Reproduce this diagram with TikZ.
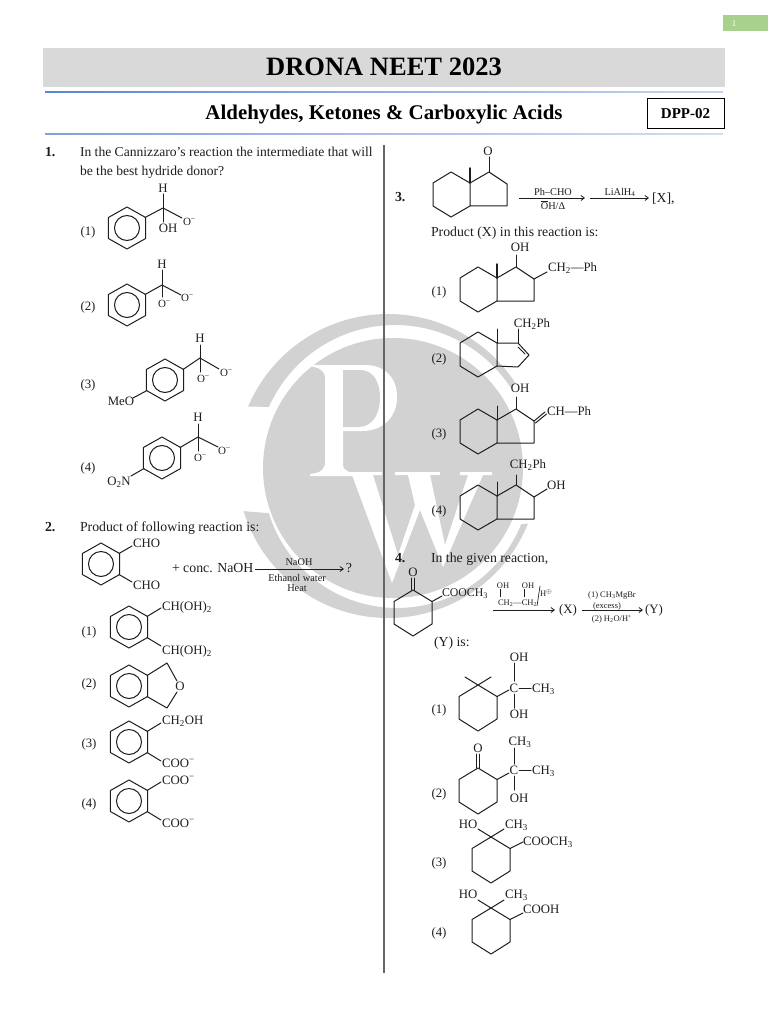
\documentclass[tikz,border=0pt]{standalone}
\usepackage{fontspec}
\setmainfont{Liberation Serif}
\usetikzlibrary{arrows.meta}
\definecolor{wm}{HTML}{D2D2D2}
\definecolor{ink}{HTML}{1E1E1E}
\definecolor{pagegreen}{HTML}{A9D18E}
\definecolor{bandgrey}{HTML}{D9D9D9}
\definecolor{ruleone}{HTML}{5A87D2}
\definecolor{ruletwo}{HTML}{82A0DC}
\definecolor{midline}{HTML}{666666}
\newcounter{tn}
\tikzset{
 txt/.style={inner sep=0pt,outer sep=0pt,text=ink,font=\fontsize{12.8}{14}\selectfont},
 body/.style={font=\fontsize{13.8}{15}\selectfont},
 bodyq/.style={font=\fontsize{13.6}{15}\selectfont},
 bodyb/.style={font=\fontsize{13.8}{15}\selectfont\bfseries},
 small/.style={font=\fontsize{10.3}{12}\selectfont},
 minus/.style={font=\fontsize{11}{12}\selectfont},
 tiny/.style={font=\fontsize{8.5}{10}\selectfont},
 bond/.style={draw=ink,line width=1pt,line join=round,line cap=round},
 thinbond/.style={draw=ink,line width=0.65pt},
 heavy/.style={draw=ink,line width=1.5pt,line cap=round},
 rarrow/.style={draw=ink,line width=0.8pt,-{Straight Barb[length=3.5pt,width=5pt]}},
 rulea/.style={left color=#1,right color=#1!35!white,draw=none},
}
\newcommand\txtL[4][]{\stepcounter{tn}\node[txt,anchor=base west,#1] (t\arabic{tn}) at (#2,{#3+4.2}) {#4};}
\newcommand\txtC[4][]{\stepcounter{tn}\node[txt,anchor=base,#1] (t\arabic{tn}) at (#2,{#3+4.2}) {#4};}
% hexagon pointy top, centre x y, with inner circle
\newcommand\benz[2]{%
 \draw[bond] (#1,#2-21) -- (#1+18.6,#2-10.5) -- (#1+18.6,#2+10.5) -- (#1,#2+21) -- (#1-18.6,#2+10.5) -- (#1-18.6,#2-10.5) -- cycle;
 \draw[bond] (#1,#2) circle[radius=12.5pt];}
% cyclohexane, given top vertex
\newcommand\chex[2]{%
 \draw[bond] (#1,#2) -- (#1+19,#2+11.5) -- (#1+19,#2+34) -- (#1,#2+46) -- (#1-19,#2+34) -- (#1-19,#2+11.5) -- cycle;}
% fused six-five skeleton, J = upper junction
\newcommand\sixring[2]{%
 \draw[bond] (#1,#2) -- (#1-19,#2-11) -- (#1-37,#2) -- (#1-37,#2+23) -- (#1-19,#2+34) -- (#1,#2+23) -- cycle;}
\newcommand\fivering[2]{%
 \draw[bond] (#1,#2) -- (#1+19,#2-11) -- (#1+37,#2+1) -- (#1+37,#2+23) -- (#1,#2+23);}
\begin{document}
\begin{tikzpicture}[x=1pt,y=-1pt]
\useasboundingbox (0,0) rectangle (768,1024);
\fill[white] (0,0) rectangle (768,1024);
% ---- watermark
\fill[wm] plot[domain=157:33,samples=70] ({388+152*cos(\x)},{466-152*sin(\x)}) -- plot[domain=33:156,samples=70] ({395+138*cos(\x)},{463-138*sin(\x)}) -- cycle;
\fill[wm] plot[domain=197:338,samples=70] ({388+151*cos(\x)},{467-151*sin(\x)}) -- plot[domain=338:197,samples=70] ({397+134*cos(\x)},{474-134*sin(\x)}) -- cycle;
\fill[wm] (393,468) circle[radius=130pt];
\fill[white] (308,365) -- (365,365) .. controls (385,365) and (397,378) .. (397,397) .. controls (397,418) and (382,431) .. (362,431) -- (343,431) -- (343,466) .. controls (343,470) and (350,473) .. (357,474) -- (357,476) -- (310,476) -- (310,474) .. controls (320,473) and (325,470) .. (325,462) -- (325,378) .. controls (325,370) and (318,367) .. (308,366) -- cycle;
\fill[wm] (343,370) -- (360,370) .. controls (375,370) and (380,385) .. (380,397) .. controls (380,415) and (372,427) .. (358,427) -- (343,427) -- cycle;
\fill[white] (345,472) -- (382,472) -- (382,475) -- (373,475) -- (398,555) -- (415,505) -- (408,475) -- (395,475) -- (395,472) -- (440,472) -- (440,475) -- (430,475) -- (445,545) -- (468,475) -- (460,475) -- (460,472) -- (492,472) -- (492,475) -- (483,475) -- (443,567) -- (420,510) -- (392,583) -- (352,475) -- (345,475) -- cycle;
% ---- header
\fill[pagegreen] (723,15) rectangle (768,31);
\txtC[font=\fontsize{9}{10}\selectfont,text=white]{734}{22}{1}
\fill[bandgrey] (43,48) rectangle (725,87);
\txtC[font=\fontsize{26.5}{28}\selectfont\bfseries,text=black]{384}{71}{DRONA NEET 2023}
\shade[rulea=ruleone] (45,91.5) rectangle (723,93);
\txtC[font=\fontsize{20.9}{23}\selectfont\bfseries,text=black]{384}{115}{Aldehydes, Ketones \& Carboxylic Acids}
\draw[black,line width=0.9pt] (647,98) rectangle (724,128);
\txtC[font=\fontsize{15}{17}\selectfont\bfseries,text=black]{685.5}{114}{DPP-02}
\shade[rulea=ruletwo] (45,133.5) rectangle (723,135);
\draw[draw=midline,line width=1.4pt] (384,145) -- (384,973);
% ---- Q1
\txtL[bodyb]{45}{152}{1.}
\txtL[bodyq]{80}{152}{In the Cannizzaro’s reaction the intermediate that will}
\txtL[bodyq]{80}{171}{be the best hydride donor?}
\txtC{88}{231}{(1)}\txtC{88}{306}{(2)}\txtC{88}{384}{(3)}\txtC{88}{467}{(4)}
\benz{127}{228}
\draw[bond] (145,217.5) -- (163,208) -- (182,218);
\draw[bond] (163,194) -- (163,222);
\txtC{163}{188}{H}\txtC{168}{228}{OH}\txtL[minus]{183}{221}{O\textsuperscript{−}}
\benz{127}{305}
\draw[bond] (145,294.5) -- (162,285) -- (181,295);
\draw[bond] (162,270) -- (162,297);
\txtC{162}{264}{H}\txtL[minus]{158}{303}{O\textsuperscript{−}}\txtL[minus]{181}{297}{O\textsuperscript{−}}
\benz{165}{380}
\draw[bond] (183,369.5) -- (200,358) -- (219,369);
\draw[bond] (200,345) -- (200,372);
\draw[bond] (147,390.5) -- (133,398);
\txtC{200}{338}{H}\txtL[minus]{197}{378}{O\textsuperscript{−}}\txtL[minus]{220}{372}{O\textsuperscript{−}}
\txtC{121}{401}{MeO}
\benz{162}{458}
\draw[bond] (180,447.5) -- (198,437) -- (218,447);
\draw[bond] (198,424) -- (198,451);
\draw[bond] (144,468.5) -- (131,476);
\txtC{198}{417}{H}\txtL[minus]{194}{457}{O\textsuperscript{−}}\txtL[minus]{218}{450}{O\textsuperscript{−}}
\txtC{119}{481}{O\textsubscript{2}N}
% ---- Q2
\txtL[bodyb]{45}{527}{2.}
\txtL[body]{80}{527}{Product of following reaction is:}
\benz{101}{564}
\draw[bond] (119,553.5) -- (132,546);
\draw[bond] (119,574.5) -- (132,582);
\txtL{133}{543}{CHO}\txtL{133}{585}{CHO}
\txtL[body]{172}{568}{+ conc. NaOH}
\coordinate (q2a) at (255,569);\coordinate (q2b) at (344,569);
\draw[rarrow] (q2a) -- (q2b);
\txtC[body]{349}{568}{?}
\txtC[small]{299}{561}{NaOH}\txtC[small]{297}{577}{Ethanol water}\txtC[small]{297}{587}{Heat}
\txtC{89}{631}{(1)}\txtC{89}{683}{(2)}\txtC{89}{743}{(3)}\txtC{89}{803}{(4)}
\benz{129}{627}
\draw[bond] (147,616.5) -- (161,608);
\draw[bond] (147,637.5) -- (161,646);
\txtL{162}{606}{CH(OH)\textsubscript{2}}\txtL{162}{650}{CH(OH)\textsubscript{2}}
\benz{129}{686}
\draw[bond] (147,675.5) -- (167,663) -- (177,681);
\draw[bond] (147,696.5) -- (167,708) -- (177,692);
\txtC{180}{686}{O}
\benz{129}{742}
\draw[bond] (147,731.5) -- (161,723);
\draw[bond] (147,752.5) -- (161,761);
\txtL{162}{720}{CH\textsubscript{2}OH}\txtL{162}{763}{COO\textsuperscript{−}}
\benz{129}{801}
\draw[bond] (147,790.5) -- (161,782);
\draw[bond] (147,811.5) -- (161,820);
\txtL{162}{780}{COO\textsuperscript{−}}\txtL{162}{823}{COO\textsuperscript{−}}
% ---- Q3
\txtL[bodyb]{395}{197}{3.}
\sixring{470}{183}\fivering{470}{183}
\draw[heavy] (470,183) -- (470,168);
\draw[bond] (489,157) -- (489,172);
\txtC{488}{151}{O}
\coordinate (q3a) at (519,198);\coordinate (q3b) at (585,198);\coordinate (q3c) at (590,198);\coordinate (q3d) at (649,198);
\draw[rarrow] (q3a) -- (q3b);\draw[rarrow] (q3c) -- (q3d);
\txtC[small]{553}{191}{Ph–CHO}\txtC[small]{553}{205}{\ensuremath{\overline{\mbox{O}}}H/Δ}
\txtC[small]{620}{191}{LiAlH\textsubscript{4}}
\txtL[body]{652}{198}{[X],}
\txtL[body]{431}{232}{Product (X) in this reaction is:}
\txtC{439}{291}{(1)}\txtC{439}{358}{(2)}\txtC{439}{433}{(3)}\txtC{439}{510}{(4)}
\sixring{497}{278}\fivering{497}{278}
\draw[heavy] (497,278) -- (497,264);
\draw[bond] (516,255) -- (516,267);
\draw[bond] (534,279) -- (547,272);
\txtC{520}{247}{OH}\txtL{548}{267}{CH\textsubscript{2}—Ph}
\sixring{497}{343}
\draw[bond] (497,343) -- (518,343) -- (529,355) -- (518,367) -- (497,366);
\draw[bond] (518,347) -- (525,354);
\draw[bond] (497,343) -- (497,329);
\draw[bond] (518,343) -- (518,329);
\txtC{532}{323}{CH\textsubscript{2}Ph}
\sixring{497}{420}\fivering{497}{420}
\draw[bond] (497,420) -- (497,406);
\draw[bond] (516,397) -- (516,409);
\draw[bond] (534,421) -- (545,412);
\draw[bond] (535.5,423) -- (546.5,414);
\txtC{520}{388}{OH}\txtL{547}{411}{CH—Ph}
\sixring{497}{496}\fivering{497}{496}
\draw[bond] (497,496) -- (497,482);
\draw[bond] (516,475) -- (516,485);
\draw[bond] (534,497) -- (547,489);
\txtC{528}{464}{CH\textsubscript{2}Ph}\txtL{547}{485}{OH}
% ---- Q4
\txtL[bodyb]{395}{558}{4.}
\txtL[body]{431}{558}{In the given reaction,}
\chex{413}{590}
\draw[bond] (411.6,578) -- (411.6,590);\draw[bond] (414.4,578) -- (414.4,590);
\txtC{413}{572}{O}
\draw[bond] (432,601.5) -- (442,596);
\txtL[font=\fontsize{11.8}{13}\selectfont]{442}{592}{COOCH\textsubscript{3}}
\txtC[tiny]{503}{584}{OH}\txtC[tiny]{528}{584}{OH}
\draw[thinbond] (500,589) -- (500,597);\draw[thinbond] (524,589) -- (524,597);
\txtL[tiny]{498}{601}{CH\textsubscript{2}—CH\textsubscript{2}}
\draw[thinbond] (540,586) -- (537,606);
\txtL[tiny]{540}{592}{H\ensuremath{^{\oplus}}}
\coordinate (q4a) at (493,610);\coordinate (q4b) at (555,610);\coordinate (q4c) at (582,610);\coordinate (q4d) at (643,610);
\draw[rarrow] (q4a) -- (q4b);\draw[rarrow] (q4c) -- (q4d);
\txtC{568}{609}{(X)}\txtC{654}{609}{(Y)}
\txtC[tiny]{612}{593}{(1) CH\textsubscript{3}MgBr}\txtC[tiny]{607}{604}{(excess)}\txtC[tiny]{612}{617}{(2) H\textsubscript{2}O/H\textsuperscript{+}}
\txtL[body]{434}{642}{(Y) is:}
\txtC{439}{709}{(1)}\txtC{439}{793}{(2)}\txtC{439}{862}{(3)}\txtC{439}{932}{(4)}
\chex{478}{685}
\draw[bond] (478,685) -- (465,677);\draw[bond] (478,685) -- (491,677);
\draw[bond] (497,696.5) -- (509,690);
\draw[bond] (514,663) -- (514,681);\draw[bond] (514,694) -- (514,708);
\draw[bond] (519,688) -- (531,688);
\txtC{514}{688}{C}\txtC{519}{657}{OH}\txtC{519}{714}{OH}\txtL{532}{688}{CH\textsubscript{3}}
\chex{478}{768}
\draw[bond] (476.6,754) -- (476.6,768);\draw[bond] (479.4,754) -- (479.4,768);
\draw[bond] (497,779.5) -- (509,773);
\draw[bond] (514,748) -- (514,764);\draw[bond] (514,776) -- (514,790);
\draw[bond] (519,770) -- (531,770);
\txtC{478}{748}{O}\txtC{514}{770}{C}\txtC{520}{741}{CH\textsubscript{3}}\txtL{532}{770}{CH\textsubscript{3}}\txtC{519}{798}{OH}
\chex{491}{837}
\draw[bond] (491,837) -- (478,829);\draw[bond] (491,837) -- (504,829);
\draw[bond] (510,848.5) -- (523,842);
\txtC{468}{824}{HO}\txtL{505}{824}{CH\textsubscript{3}}\txtL{523}{841}{COOCH\textsubscript{3}}
\chex{491}{908}
\draw[bond] (491,908) -- (478,900);\draw[bond] (491,908) -- (504,900);
\draw[bond] (510,919.5) -- (523,913);
\txtC{468}{894}{HO}\txtL{505}{894}{CH\textsubscript{3}}\txtL{523}{909}{COOH}
\end{tikzpicture}
\end{document}
